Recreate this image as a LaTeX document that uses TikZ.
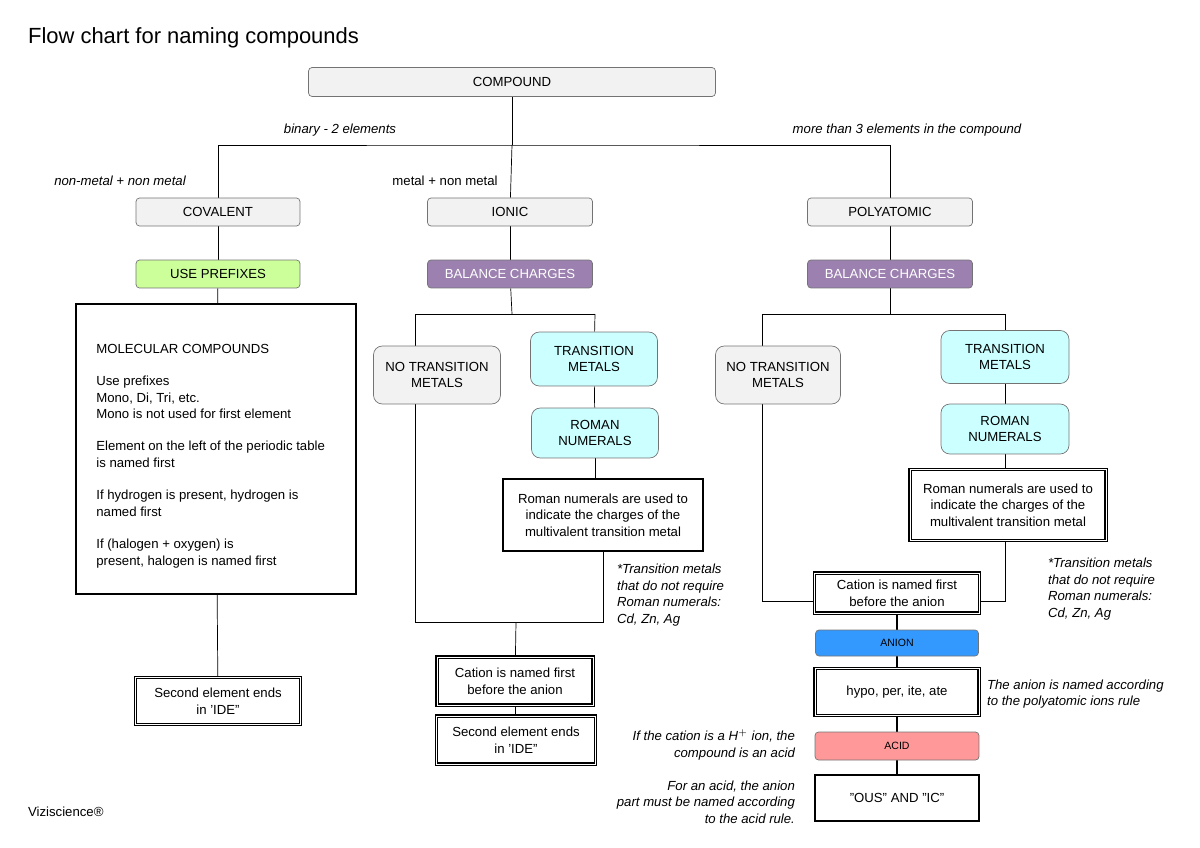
\documentclass[tikz,border=0pt]{standalone}
\usepackage{fontspec}
\setmainfont{Liberation Sans}
\usetikzlibrary{backgrounds}

\definecolor{boxgray}{RGB}{242,242,242}
\definecolor{prefgreen}{RGB}{204,255,153}
\definecolor{balpurple}{RGB}{155,128,176}
\definecolor{transcyan}{RGB}{204,255,255}
\definecolor{anionblue}{RGB}{51,153,255}
\definecolor{acidpink}{RGB}{255,153,153}

\tikzset{
	grey box/.style={draw=black!55, fill=boxgray, rounded corners=2pt, align=center},
	soft box/.style={draw=black!55, rounded corners=5pt, align=center},
	rule box/.style={draw=black, thick, fill=white, align=center},
	double box/.style={draw=black, thick, fill=white, align=center, double, double distance=0.5pt},
	note/.style={font=\fontsize{7.5}{9.5}\selectfont\itshape, align=left, anchor=west},
	link/.style={draw=black, thin}
}

\begin{document}
\begin{tikzpicture}[x=0.02cm, y=-0.02cm, font=\fontsize{7.5}{9.5}\selectfont, inner sep=1pt]
	\useasboundingbox (0,0) rectangle (1200,848);
	\node[anchor=west, font=\fontsize{12.5}{14}\selectfont] (title) at (26,38) {Flow chart for naming compounds};
	\node[grey box, minimum width=8.14cm, minimum height=0.58cm] (compound) at (512,82) {COMPOUND};

	\node[note, anchor=center] (binary) at (340,130) {binary - 2 elements};
	\node[note, anchor=center] (more) at (907,130) {more than 3 elements in the compound};
	\node[note, anchor=center] (nonmetal) at (120,181) {non-metal + non metal};
	\node[anchor=center] (metal) at (445,181) {metal + non metal};

	\node[grey box, minimum width=3.28cm, minimum height=0.56cm] (covalent) at (218,212) {COVALENT};
	\node[grey box, minimum width=3.30cm, minimum height=0.56cm] (ionic) at (510,212) {IONIC};
	\node[grey box, minimum width=3.30cm, minimum height=0.56cm] (polyatomic) at (890,212) {POLYATOMIC};

	\node[grey box, fill=prefgreen, minimum width=3.28cm, minimum height=0.56cm] (prefixes) at (218,274) {USE PREFIXES};
	\node[grey box, fill=balpurple, text=white, minimum width=3.30cm, minimum height=0.56cm] (ionbal) at (510,274) {BALANCE CHARGES};
	\node[grey box, fill=balpurple, text=white, minimum width=3.30cm, minimum height=0.56cm] (polybal) at (890,274) {BALANCE CHARGES};

	\node[rule box, minimum width=5.6cm, minimum height=5.8cm] (molecular) at (216,449) {};
	\node[anchor=north west, align=left, inner sep=0pt] (moltext) at (96,344) {MOLECULAR COMPOUNDS\\[2.2ex]
		Use prefixes\\Mono, Di, Tri, etc.\\Mono is not used for first element\\[2.2ex]
		Element on the left of the periodic table\\is named first\\[2.2ex]
		If hydrogen is present, hydrogen is\\named first\\[2.2ex]
		If (halogen + oxygen) is\\present, halogen is named first};
	\node[double box, minimum width=3.3cm, minimum height=0.94cm] (covide) at (218,701) {Second element ends\\in 'IDE"};

	% ionic branch
	\node[soft box, fill=boxgray, minimum width=2.54cm, minimum height=1.16cm] (ionnotrans) at (437,375) {NO TRANSITION\\METALS};
	\node[soft box, fill=transcyan, minimum width=2.54cm, minimum height=1.08cm] (iontrans) at (594,359) {TRANSITION\\METALS};
	\node[soft box, fill=transcyan, minimum width=2.54cm, minimum height=1.0cm] (ionroman) at (595,433) {ROMAN\\NUMERALS};
	\node[rule box, minimum width=4.0cm, minimum height=1.44cm] (ionrule) at (603,515) {Roman numerals are used to\\indicate the charges of the\\multivalent transition metal};
	\node[note] (ionnote) at (615,595) {*Transition metals\\that do not require\\Roman numerals:\\Cd, Zn, Ag};
	\node[double box, minimum width=3.12cm, minimum height=0.96cm] (ioncation) at (515,681) {Cation is named first\\before the anion};
	\node[double box, minimum width=3.18cm, minimum height=0.96cm] (ionide) at (516,740) {Second element ends\\in 'IDE"};

	% polyatomic branch
	\node[soft box, fill=boxgray, minimum width=2.5cm, minimum height=1.16cm] (polynotrans) at (778,375) {NO TRANSITION\\METALS};
	\node[soft box, fill=transcyan, minimum width=2.56cm, minimum height=1.06cm] (polytrans) at (1005,357) {TRANSITION\\METALS};
	\node[soft box, fill=transcyan, minimum width=2.56cm, minimum height=1.0cm] (polyroman) at (1005,429) {ROMAN\\NUMERALS};
	\node[double box, minimum width=3.92cm, minimum height=1.42cm] (polyrule) at (1008,505) {Roman numerals are used to\\indicate the charges of the\\multivalent transition metal};
	\node[note] (polynote) at (1046,589) {*Transition metals\\that do not require\\Roman numerals:\\Cd, Zn, Ag};
	\node[double box, minimum width=3.3cm, minimum height=0.8cm] (polycation) at (897,593) {Cation is named first\\before the anion};
	\node[grey box, fill=anionblue, minimum width=3.26cm, minimum height=0.52cm, font=\fontsize{6}{7}\selectfont] (anion) at (897,643) {ANION};
	\node[double box, minimum width=3.28cm, minimum height=0.94cm] (hypo) at (897,692) {hypo, per, ite, ate};
	\node[note] (anionnote) at (985,694) {The anion is named according\\to the polyatomic ions rule};
	\node[grey box, fill=acidpink, minimum width=3.28cm, minimum height=0.56cm, font=\fontsize{6}{7}\selectfont] (acid) at (897,746) {ACID};
	\node[note, align=right, anchor=east] (acidnote) at (797,745) {If the cation is a H$^{+}$ ion, the\\compound is an acid};
	\node[note, align=right, anchor=east] (rulenote) at (797,802) {For an acid, the anion\\part must be named according\\to the acid rule.};

	\node[rule box, minimum width=3.28cm, minimum height=0.92cm] (ous) at (897,798) {"OUS" AND "IC"};
	\node[anchor=west] (brand) at (26,812) {Viziscience®};

	\begin{pgfonlayer}{background}
		\coordinate (split) at (512,145);
		\draw[link] (compound) -- (split);
		\draw[link] (covalent.north) |- (split) -| (polyatomic.north);
		\draw[link] (split) -- (ionic);
		\draw[link] (covalent) -- (prefixes);
		\draw[link] (prefixes) -- (molecular);
		\draw[link] (molecular) -- (covide);
		\draw[link] (ionic) -- (ionbal);
		\draw[link] (polyatomic) -- (polybal);

		\coordinate (ionfork) at (512,314);
		\coordinate (ionjoin) at (516,622);
		\draw[link] (ionbal) -- (ionfork);
		\draw[link] (415,314) -- (595,314);
		\draw[link] (595,314) -- (iontrans);
		\draw[link] (415,314) -- (415,622) -- (603,622) -- (ionrule.south);
		\draw[link] (ionjoin) -- (ioncation);
		\draw[link] (ioncation) -- (ionide);
		\draw[link] (iontrans) -- (ionroman);
		\draw[link] (ionroman) -- (ionroman |- ionrule.north);

		\coordinate (polyfork) at (890,314);
		\draw[link] (polybal) -- (polyfork);
		\draw[link] (762,314) -- (1005,314);
		\draw[link] (762,314) -- (762,601) -- (polycation.west |- 762,601);
		\draw[link] (1005,314) -- (polytrans);
		\draw[link] (polytrans) -- (polyroman);
		\draw[link] (polyroman) -- (polyroman |- polyrule.north);
		\draw[link] (polyroman |- polyrule.south) -- (1005,601) -- (polycation.east |- 1005,601);
		\draw[link, thick] (polycation) -- (anion);
		\draw[link, thick] (anion) -- (hypo);
		\draw[link, thick] (hypo) -- (acid);
		\draw[link, thick] (acid) -- (ous);
	\end{pgfonlayer}
\end{tikzpicture}
\end{document}
